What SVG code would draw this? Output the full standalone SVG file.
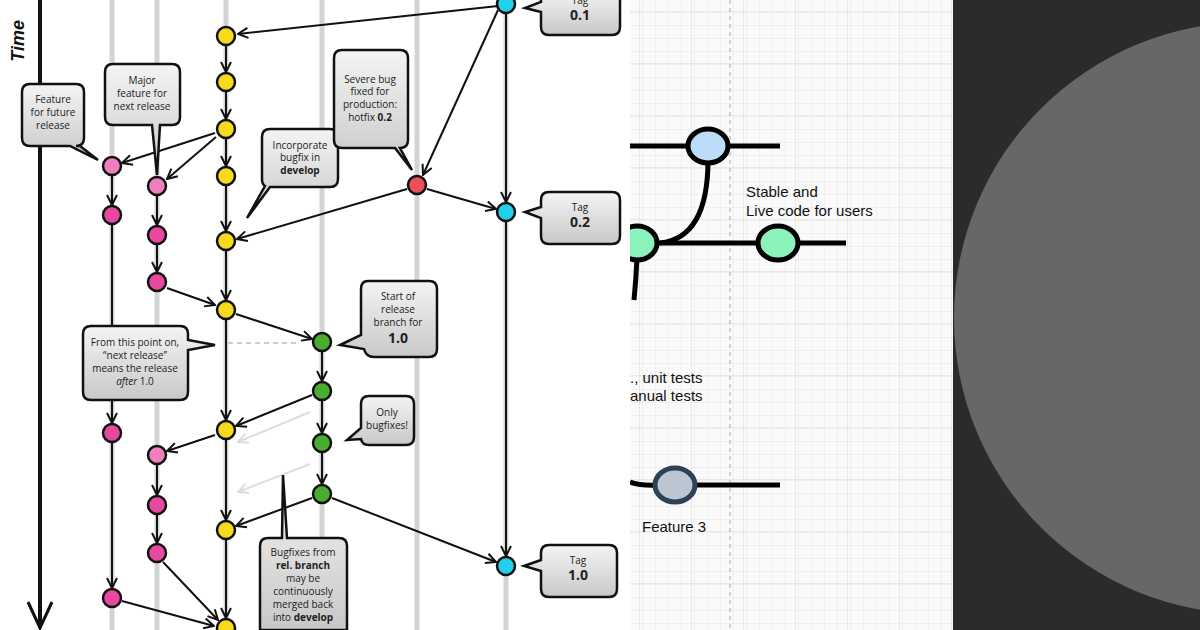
<svg xmlns="http://www.w3.org/2000/svg" width="1200" height="630" viewBox="0 0 1200 630">
<defs>
<style>
.lane{stroke:#d4d4d4;stroke-width:5}
.e{stroke:#111;stroke-width:2;fill:none}
.n{stroke:#111;stroke-width:2.5}
.y{fill:#f7d91e}.p{fill:#e9489f}.pl{fill:#f07fc0}.g{fill:#4aad2f}.c{fill:#22d0ec}.r{fill:#ea4f5a}
.cb{fill:url(#gb);stroke:#111;stroke-width:2.5}
.t{font-family:"Open Sans","Liberation Sans",sans-serif;font-size:10px;fill:#222;text-anchor:middle}
.tb{font-family:"Open Sans","Liberation Sans",sans-serif;font-size:14px;font-weight:bold;fill:#222;text-anchor:middle}
.s{font-family:"Liberation Sans",Arial,sans-serif;font-size:15px;fill:#111}
.k{stroke:#000;stroke-width:5;fill:none}
</style>
<linearGradient id="gb" x1="0" y1="0" x2="0" y2="1"><stop offset="0" stop-color="#f4f4f4"/><stop offset="1" stop-color="#c8c8c8"/></linearGradient>
<marker id="a" viewBox="0 0 12 12" refX="11" refY="6" markerWidth="12" markerHeight="12" markerUnits="userSpaceOnUse" orient="auto"><path d="M1,1 L11,6 L1,11" fill="none" stroke="#111" stroke-width="2"/></marker>
<marker id="ag" viewBox="0 0 12 12" refX="11" refY="6" markerWidth="12" markerHeight="12" markerUnits="userSpaceOnUse" orient="auto"><path d="M1,1 L11,6 L1,11" fill="none" stroke="#ddd" stroke-width="2"/></marker>
<marker id="big" viewBox="0 0 30 30" refX="28" refY="15" markerWidth="30" markerHeight="30" markerUnits="userSpaceOnUse" orient="auto"><path d="M2,3 L28,15 L2,27" fill="none" stroke="#111" stroke-width="3"/></marker>
<pattern id="grid" width="13" height="13" patternUnits="userSpaceOnUse" x="630" y="0"><path d="M13,0 V13 H0" fill="none" stroke="#e6e6e6" stroke-width="1"/></pattern>
<pattern id="grid2" width="52" height="52" patternUnits="userSpaceOnUse" x="640" y="12"><path d="M52,0 V52 H0" fill="none" stroke="#d8d8d8" stroke-width="1"/></pattern>
<clipPath id="cl"><rect x="0" y="0" width="630" height="630"/></clipPath>
<clipPath id="cm"><rect x="630" y="0" width="323" height="630"/></clipPath>
</defs>
<rect width="1200" height="630" fill="#fff"/>
<g clip-path="url(#cl)">
<g id="lanes">
<line class="lane" x1="112" y1="0" x2="112" y2="630"/><line class="lane" x1="157" y1="0" x2="157" y2="630"/>
<line class="lane" x1="226" y1="0" x2="226" y2="630"/><line class="lane" x1="322" y1="0" x2="322" y2="630"/>
<line class="lane" x1="417" y1="0" x2="417" y2="630"/><line class="lane" x1="506" y1="0" x2="506" y2="630"/>
</g>
<g id="timeline"><line x1="40" y1="0" x2="40" y2="628" stroke="#111" stroke-width="4" marker-end="url(#big)"/>
<text x="24" y="20" transform="rotate(-90 24 20)" font-family="Liberation Sans,Arial,sans-serif" font-size="18" font-weight="bold" font-style="italic" fill="#111" text-anchor="end">Time</text></g>
<g id="connectors">
<line class="e" x1="498" y1="6" x2="238" y2="34" marker-end="url(#a)"/>
<line class="e" x1="226" y1="45" x2="226" y2="72" marker-end="url(#a)"/>
<line class="e" x1="226" y1="91" x2="226" y2="119" marker-end="url(#a)"/>
<line class="e" x1="226" y1="138" x2="226" y2="166" marker-end="url(#a)"/>
<line class="e" x1="226" y1="185" x2="226" y2="231" marker-end="url(#a)"/>
<line class="e" x1="226" y1="250" x2="226" y2="300" marker-end="url(#a)"/>
<line class="e" x1="226" y1="319" x2="226" y2="420" marker-end="url(#a)"/>
<line class="e" x1="226" y1="439" x2="226" y2="520" marker-end="url(#a)"/>
<line class="e" x1="226" y1="539" x2="226" y2="618" marker-end="url(#a)"/>
<line class="e" x1="215" y1="133" x2="122" y2="163" marker-end="url(#a)"/>
<line class="e" x1="216" y1="137" x2="167" y2="179" marker-end="url(#a)"/>
<line class="e" x1="112" y1="175" x2="112" y2="205" marker-end="url(#a)"/>
<line class="e" x1="157" y1="195" x2="157" y2="225" marker-end="url(#a)"/>
<line class="e" x1="157" y1="244" x2="157" y2="272" marker-end="url(#a)"/>
<line class="e" x1="167" y1="288" x2="215" y2="305" marker-end="url(#a)"/>
<line class="e" x1="112" y1="224" x2="112" y2="423" marker-end="url(#a)"/>
<line class="e" x1="112" y1="442" x2="112" y2="588" marker-end="url(#a)"/>
<line class="e" x1="122" y1="601" x2="214" y2="626" marker-end="url(#a)"/>
<line class="e" x1="157" y1="464" x2="157" y2="495" marker-end="url(#a)"/>
<line class="e" x1="157" y1="514" x2="157" y2="543" marker-end="url(#a)"/>
<line class="e" x1="163" y1="562" x2="218" y2="620" marker-end="url(#a)"/>
<line class="e" x1="215" y1="435" x2="167" y2="451" marker-end="url(#a)"/>
<line class="e" x1="498" y1="10" x2="423" y2="175" marker-end="url(#a)"/>
<line class="e" x1="506" y1="14" x2="506" y2="202" marker-end="url(#a)"/>
<line class="e" x1="506" y1="222" x2="506" y2="556" marker-end="url(#a)"/>
<line class="e" x1="427" y1="189" x2="496" y2="209" marker-end="url(#a)"/>
<line class="e" x1="407" y1="189" x2="237" y2="239" marker-end="url(#a)"/>
<line class="e" x1="236" y1="314" x2="312" y2="339" marker-end="url(#a)"/>
<line class="e" x1="322" y1="351" x2="322" y2="381" marker-end="url(#a)"/>
<line class="e" x1="322" y1="400" x2="322" y2="433" marker-end="url(#a)"/>
<line class="e" x1="322" y1="452" x2="322" y2="484" marker-end="url(#a)"/>
<line class="e" x1="312" y1="395" x2="236" y2="426" marker-end="url(#a)"/>
<line class="e" x1="312" y1="498" x2="236" y2="526" marker-end="url(#a)"/>
<line class="e" x1="332" y1="498" x2="496" y2="562" marker-end="url(#a)"/>
<line x1="310" y1="412" x2="238" y2="442" stroke="#ddd" stroke-width="2" marker-end="url(#ag)"/>
<line x1="310" y1="464" x2="238" y2="492" stroke="#ddd" stroke-width="2" marker-end="url(#ag)"/>
<line x1="228" y1="343" x2="300" y2="343" stroke="#ccc" stroke-width="2" stroke-dasharray="5,4"/>
</g>
<g id="nodes">
<circle class="n y" cx="226" cy="36" r="9"/><circle class="n y" cx="226" cy="82" r="9"/><circle class="n y" cx="226" cy="129" r="9"/>
<circle class="n y" cx="226" cy="176" r="9"/><circle class="n y" cx="226" cy="241" r="9"/><circle class="n y" cx="226" cy="310" r="9"/>
<circle class="n y" cx="226" cy="430" r="9"/><circle class="n y" cx="226" cy="530" r="9"/><circle class="n y" cx="226" cy="628" r="9"/>
<circle class="n pl" cx="112" cy="166" r="9"/><circle class="n p" cx="112" cy="215" r="9"/><circle class="n p" cx="112" cy="433" r="9"/><circle class="n p" cx="112" cy="598" r="9"/>
<circle class="n pl" cx="157" cy="186" r="9"/><circle class="n p" cx="157" cy="235" r="9"/><circle class="n p" cx="157" cy="282" r="9"/>
<circle class="n pl" cx="157" cy="455" r="9"/><circle class="n p" cx="157" cy="505" r="9"/><circle class="n p" cx="157" cy="553" r="9"/>
<circle class="n r" cx="417" cy="185" r="9"/>
<circle class="n c" cx="506" cy="4" r="9"/><circle class="n c" cx="506" cy="212" r="9"/><circle class="n c" cx="506" cy="566" r="9"/>
<circle class="n g" cx="322" cy="342" r="9"/><circle class="n g" cx="322" cy="391" r="9"/><circle class="n g" cx="322" cy="443" r="9"/><circle class="n g" cx="322" cy="494" r="9"/>
</g>
<g id="callouts">
<g id="c1"><path class="cb" d="M30,84 H76 Q84,84 84,92 V138 Q84,146 76,146 H80 L98,160 L70,146 H30 Q22,146 22,138 V92 Q22,84 30,84 Z"/>
<text class="t" x="53" y="103">Feature</text><text class="t" x="53" y="116">for future</text><text class="t" x="53" y="129">release</text></g>
<g id="c2"><path class="cb" d="M113,64 H172 Q180,64 180,72 V117 Q180,125 172,125 H160 L157,175 L152,125 H113 Q105,125 105,117 V72 Q105,64 113,64 Z"/>
<text class="t" x="142" y="84">Major</text><text class="t" x="142" y="97">feature for</text><text class="t" x="142" y="110">next release</text></g>
<g id="c3"><path class="cb" d="M270,129 H330 Q338,129 338,137 V179 Q338,187 330,187 H270 L247,218 L265,186 Q262,184 262,179 V137 Q262,129 270,129 Z"/>
<text class="t" x="300" y="149">Incorporate</text><text class="t" x="300" y="161">bugfix in</text><text class="t" x="300" y="174" font-weight="bold">develop</text></g>
<g id="c4"><path class="cb" d="M342,50 H400 Q408,50 408,58 V140 Q408,148 400,148 L412,170 L395,148 H342 Q334,148 334,140 V58 Q334,50 342,50 Z"/>
<text class="t" x="370" y="83">Severe bug</text><text class="t" x="370" y="95">fixed for</text><text class="t" x="370" y="108">production:</text><text class="t" x="370" y="121">hotfix <tspan font-weight="bold">0.2</tspan></text></g>
<g id="t01"><path class="cb" d="M549,-10 H612 Q620,-10 620,-2 V27 Q620,35 612,35 H549 Q541,35 541,27 V12 L525,8 L541,2 V-2 Q541,-10 549,-10 Z"/>
<text class="t" x="580" y="4">Tag</text><text class="tb" x="580" y="20">0.1</text></g>
<g id="t02"><path class="cb" d="M549,192 H612 Q620,192 620,200 V236 Q620,244 612,244 H549 Q541,244 541,236 V218 L525,212 L541,207 V200 Q541,192 549,192 Z"/>
<text class="t" x="580" y="211">Tag</text><text class="tb" x="580" y="227">0.2</text></g>
<g id="c5"><path class="cb" d="M368,281 H429 Q437,281 437,289 V349 Q437,357 429,357 H374 Q366,357 364,349 L340,345 L361,335 V289 Q361,281 368,281 Z"/>
<text class="t" x="398" y="300">Start of</text><text class="t" x="398" y="313">release</text><text class="t" x="398" y="326">branch for</text><text class="tb" x="398" y="343">1.0</text></g>
<g id="c6"><path class="cb" d="M91,326 H180 Q188,326 188,334 V340 L215,345 L188,350 V392 Q188,400 180,400 H91 Q83,400 83,392 V334 Q83,326 91,326 Z"/>
<text class="t" x="135" y="346">From this point on,</text><text class="t" x="135" y="359">“next release”</text><text class="t" x="135" y="372">means the release</text><text class="t" x="135" y="385"><tspan font-style="italic">after</tspan> 1.0</text></g>
<g id="c7"><path class="cb" d="M369,396 H406 Q414,396 414,404 V437 Q414,445 406,445 H369 Q362,445 361,439 L347,440 L361,428 V404 Q361,396 369,396 Z"/>
<text class="t" x="387" y="416">Only</text><text class="t" x="387" y="429">bugfixes!</text></g>
<g id="c8"><path class="cb" d="M268,538 H282 L283,475 L287,538 H339 Q347,538 347,546 V630 H260 V546 Q260,538 268,538 Z"/>
<text class="t" x="303" y="556">Bugfixes from</text><text class="t" x="303" y="569" font-weight="bold">rel. branch</text><text class="t" x="303" y="582">may be</text><text class="t" x="303" y="595">continuously</text><text class="t" x="303" y="608">merged back</text><text class="t" x="303" y="621">into <tspan font-weight="bold">develop</tspan></text></g>
<g id="t10"><path class="cb" d="M549,545 H609 Q617,545 617,553 V589 Q617,597 609,597 H549 Q541,597 541,589 V571 L524,566 L541,560 V553 Q541,545 549,545 Z"/>
<text class="t" x="578" y="564">Tag</text><text class="tb" x="578" y="580">1.0</text></g>
</g>
</g>
<g id="middle" clip-path="url(#cm)">
<rect x="630" y="0" width="323" height="630" fill="#fafafa"/>
<rect x="630" y="0" width="323" height="630" fill="url(#grid)"/>
<rect x="630" y="0" width="323" height="630" fill="url(#grid2)"/>
<line x1="730" y1="0" x2="730" y2="630" stroke="#aaa" stroke-width="1" stroke-dasharray="4,4"/>
<g id="m-connectors">
<line class="k" x1="630" y1="146" x2="780" y2="146"/>
<line class="k" x1="630" y1="243" x2="846" y2="243"/>
<path class="k" d="M708,160 Q708,238 660,243"/>
<path class="k" d="M637,258 Q636,280 634,300"/>
<path class="k" d="M630,482 Q640,486 660,485 L780,485"/>
</g>
<g id="m1"><ellipse cx="708" cy="146" rx="20" ry="17" fill="#bcdcf8" stroke="#000" stroke-width="5"/></g>
<g id="m2"><ellipse cx="637" cy="243" rx="20" ry="17" fill="#8cf2bb" stroke="#000" stroke-width="5"/></g>
<g id="m3"><ellipse cx="778" cy="243" rx="20" ry="17" fill="#8cf2bb" stroke="#000" stroke-width="5"/></g>
<g id="m4"><ellipse cx="675" cy="485" rx="20" ry="17" fill="#bcc6d2" stroke="#2d4159" stroke-width="5"/></g>
<text class="s" x="746" y="197">Stable and</text>
<text class="s" x="746" y="216">Live code for users</text>
<text class="s" x="630" y="383">., unit tests</text>
<text class="s" x="630" y="401">anual tests</text>
<text class="s" x="642" y="532">Feature 3</text>
</g>
<g id="right">
<rect x="953" y="0" width="247" height="630" fill="#2b2b2b"/>
<circle cx="1250" cy="318" r="296" fill="#676767"/>
</g>
</svg>
